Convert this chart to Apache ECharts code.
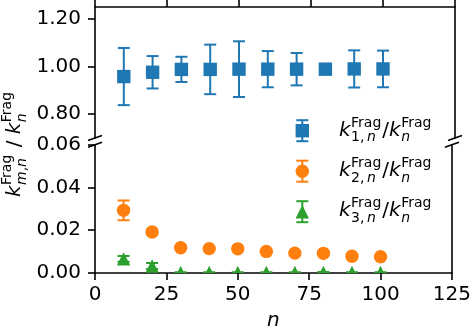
<!DOCTYPE html>
<html><head><meta charset="utf-8">
<script src="https://cdn.jsdelivr.net/npm/echarts@6/dist/echarts.min.js"></script>
<style>html,body{margin:0;padding:0;background:#fff}#c{width:474px;height:332px}</style>
</head><body><div id="c"></div>
<script>
// ---- data ----
const nValues = [10, 20, 30, 40, 50, 60, 70, 80, 90, 100];
const k1Ratio = [0.958, 0.976, 0.988, 0.988, 0.989, 0.989, 0.989, 0.989, 0.990, 0.990];
const k1Err   = [0.120, 0.068, 0.053, 0.104, 0.117, 0.076, 0.068, 0.008, 0.078, 0.077];
const k2Ratio = [0.0293, 0.0192, 0.0118, 0.0114, 0.0113, 0.0101, 0.0093, 0.0092, 0.0078, 0.0076];
const k2Err   = [0.0046, 0.0010, 0.0006, 0.0005, 0.0005, 0.0004, 0.0004, 0.0004, 0.0003, 0.0003];
const k3Ratio = [0.0066, 0.0033, 0.0002, 0.0002, 0.0002, 0.0002, 0.0002, 0.0003, 0.0002, 0.0002];
const k3Err   = [0.0013, 0.0014, 0.0002, 0.0002, 0.0002, 0.0002, 0.0002, 0.0002, 0.0002, 0.0002];
const xTicks = [0, 25, 50, 75, 100, 125];
const yTopTicks = [0.8, 1.0, 1.2];
const yBottomTicks = [0, 0.02, 0.04, 0.06];
const yTopRange = [0.7, 1.25];
const yBottomRange = [0, 0.06];

const FONT = 'DejaVu Sans';
const C1 = '#1f77b4', C2 = '#ff7f0e', C3 = '#2ca02c';
const MS = 13.4, CAP = 6, ELW = 2;
const axisLS = {color: '#000', width: 1.6};

function marker(shape, cx, cy, color) {
  const h = MS / 2;
  if (shape === 'square') return {type: 'rect', shape: {x: cx - h, y: cy - h, width: MS, height: MS}, style: {fill: color}};
  if (shape === 'circle') return {type: 'circle', shape: {cx: cx, cy: cy, r: h}, style: {fill: color}};
  return {type: 'polygon', shape: {points: [[cx, cy - h], [cx - h, cy + h], [cx + h, cy + h]]}, style: {fill: color}};
}
function errParts(cx, y1, y2, color) {
  const st = {stroke: color, lineWidth: ELW};
  return [
    {type: 'line', shape: {x1: cx, y1: y1, x2: cx, y2: y2}, style: st},
    {type: 'line', shape: {x1: cx - CAP, y1: y1, x2: cx + CAP, y2: y1}, style: st},
    {type: 'line', shape: {x1: cx - CAP, y1: y2, x2: cx + CAP, y2: y2}, style: st}
  ];
}
function errSeries(name, gi, vals, errs, shape, color) {
  return {
    type: 'custom', name: name, xAxisIndex: gi, yAxisIndex: gi * 2, clip: true,
    data: nValues.map((n, i) => [n, vals[i], errs[i]]),
    encode: {x: 0, y: 1},
    renderItem: function (params, api) {
      const x = api.value(0), y = api.value(1), e = api.value(2);
      const c = api.coord([x, y]), hi = api.coord([x, y + e]), lo = api.coord([x, y - e]);
      const ch = errParts(c[0], hi[1], lo[1], color);
      ch.push(marker(shape, c[0], c[1], color));
      return {type: 'group', children: ch};
    }
  };
}

const chart = echarts.init(document.getElementById('c'));
const yLeftBase = {
  type: 'value', position: 'left',
  axisLine: {show: true, onZero: false, lineStyle: axisLS},
  axisTick: {show: true, length: 7, lineStyle: axisLS},
  axisLabel: {fontSize: 20, fontFamily: FONT, color: '#000', margin: 14, formatter: v => v.toFixed(2)},
  splitLine: {show: false}
};
const yRightBase = {
  type: 'value', position: 'right',
  axisLine: {show: true, onZero: false, lineStyle: axisLS},
  axisTick: {show: false}, axisLabel: {show: false}, splitLine: {show: false}
};
chart.setOption({
  animation: false,
  backgroundColor: '#fff',
  grid: [
    {left: 95, right: 19, top: 7, height: 131},
    {left: 95, right: 19, top: 144.7, height: 131}
  ],
  xAxis: [
    {gridIndex: 0, type: 'value', min: 0, max: 125, interval: 25, position: 'top',
     axisLine: {onZero: false, lineStyle: axisLS}, axisTick: {length: 7, lineStyle: axisLS},
     axisLabel: {show: false}, splitLine: {show: false}},
    {gridIndex: 1, type: 'value', min: 0, max: 125, interval: 25, position: 'bottom',
     axisLine: {onZero: false, lineStyle: axisLS}, axisTick: {length: 7, lineStyle: axisLS},
     axisLabel: {fontSize: 20, fontFamily: FONT, color: '#000', margin: 12, customValues: xTicks},
     splitLine: {show: false},
     name: 'n', nameLocation: 'middle', nameGap: 38,
     nameTextStyle: {fontSize: 20, fontFamily: FONT, fontStyle: 'italic', color: '#000'}}
  ],
  yAxis: [
    Object.assign({}, yLeftBase, {gridIndex: 0, min: yTopRange[0], max: yTopRange[1],
      axisTick: Object.assign({}, yLeftBase.axisTick, {customValues: yTopTicks}),
      axisLabel: Object.assign({}, yLeftBase.axisLabel, {customValues: yTopTicks})}),
    Object.assign({}, yRightBase, {gridIndex: 0, min: yTopRange[0], max: yTopRange[1]}),
    Object.assign({}, yLeftBase, {gridIndex: 1, min: yBottomRange[0], max: yBottomRange[1],
      axisTick: Object.assign({}, yLeftBase.axisTick, {customValues: yBottomTicks}),
      axisLabel: Object.assign({}, yLeftBase.axisLabel, {customValues: yBottomTicks})}),
    Object.assign({}, yRightBase, {gridIndex: 1, min: yBottomRange[0], max: yBottomRange[1]})
  ],
  series: [
    errSeries('k1', 0, k1Ratio, k1Err, 'square', C1),
    errSeries('k2', 1, k2Ratio, k2Err, 'circle', C2),
    errSeries('k3', 1, k3Ratio, k3Err, 'triangle', C3)
  ]
});

// ---- math-like text builder ----
const mctx = document.createElement('canvas').getContext('2d');
function tw(s, size, it) { mctx.font = (it ? 'italic ' : '') + size + 'px "' + FONT + '"'; return mctx.measureText(s).width; }
const MID = 0.32;
function piece(s, x, base, size, it) {
  return {type: 'text', x: x, y: base - MID * size,
    style: {text: s, fontSize: size, fontFamily: FONT, fontStyle: it ? 'italic' : 'normal', fill: '#000', align: 'left', verticalAlign: 'middle'}};
}
const MAIN = 20, SCR = 14, SUPY = -9, SUBY = 5.5;
function mathText(tokens) {
  let x = 0; const els = [];
  for (const tk of tokens) {
    if (tk.m !== undefined) { els.push(piece(tk.m, x, 0, MAIN, tk.it)); x += tw(tk.m, MAIN, tk.it); }
    else {
      let w1 = 0, w2 = 0;
      if (tk.sup) { els.push(piece(tk.sup, x + 0.5, SUPY, SCR, false)); w1 = tw(tk.sup, SCR, false) + 0.5; }
      if (tk.sub) { let sx = x + 0.5; for (const p of tk.sub) { els.push(piece(p.t, sx, SUBY, SCR, p.it)); sx += tw(p.t, SCR, p.it) + (p.gap || 0); } w2 = sx - x; }
      x += Math.max(w1, w2) + 1;
    }
  }
  return {els: els, width: x};
}
function ratioTokens(m) {
  return [{m: 'k', it: true}, {sup: 'Frag', sub: [{t: m + ',', it: false, gap: 2.5}, {t: 'n', it: true}]},
          {m: '/', it: false}, {m: 'k', it: true}, {sup: 'Frag', sub: [{t: 'n', it: true}]}];
}

const graphics = [];
// legend
const legendRows = [
  {shape: 'square', color: C1, m: '1'},
  {shape: 'circle', color: C2, m: '2'},
  {shape: 'triangle', color: C3, m: '3'}
];
legendRows.forEach((r, i) => {
  const cy = 130.7 + i * 40.5, cx = 302.3;
  const parts = errParts(cx, cy - 10.5, cy + 10.5, r.color);
  parts.push(marker(r.shape, cx, cy, r.color));
  graphics.push({type: 'group', children: parts});
  const mt = mathText(ratioTokens(r.m));
  graphics.push({type: 'group', x: 339, y: 136.8 + i * 40.2, children: mt.els});
});
// y-axis label (rotated)
const yl = mathText([{m: 'k', it: true}, {sup: 'Frag', sub: [{t: 'm', it: true}, {t: ',', it: false}, {t: 'n', it: true}]},
                     {m: ' / ', it: false}, {m: 'k', it: true}, {sup: 'Frag', sub: [{t: 'n', it: true}]}]);
graphics.push({type: 'group', x: 21, y: 144 + yl.width / 2, rotation: Math.PI / 2, children: yl.els});
// break marks at the edges of the two panels
const pTL = chart.convertToPixel({xAxisIndex: 0, yAxisIndex: 0}, [0, yTopRange[0]]);
const pTR = chart.convertToPixel({xAxisIndex: 0, yAxisIndex: 0}, [125, yTopRange[0]]);
const pBL = chart.convertToPixel({xAxisIndex: 1, yAxisIndex: 2}, [0, yBottomRange[1]]);
const pBR = chart.convertToPixel({xAxisIndex: 1, yAxisIndex: 2}, [125, yBottomRange[1]]);
[pTL, pTR, pBL, pBR].forEach(p => {
  graphics.push({type: 'line', shape: {x1: p[0] - 7, y1: p[1] + 2.5, x2: p[0] + 7, y2: p[1] - 2.5}, style: {stroke: '#000', lineWidth: 1.6}});
});
chart.setOption({graphic: graphics});
</script></body></html>
